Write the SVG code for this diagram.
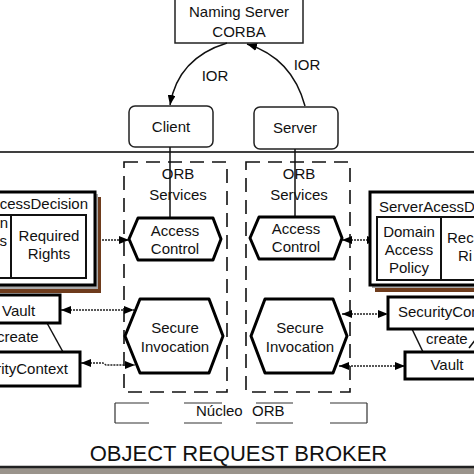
<svg xmlns="http://www.w3.org/2000/svg" width="474" height="474" viewBox="0 0 474 474">
<style>
text{font-family:"Liberation Sans",Arial,sans-serif;font-size:15px;fill:#111}
.c{text-anchor:middle}
.thin{fill:#fff;stroke:#222;stroke-width:1.5}
.thick{fill:#fff;stroke:#000;stroke-width:3}
.hex{fill:#fff;stroke:#000;stroke-width:3;stroke-linejoin:round}
.dash{fill:none;stroke:#111;stroke-width:1.6;stroke-dasharray:14 8}
.dot{fill:none;stroke:#222;stroke-width:1.3;stroke-dasharray:2 1}
.line{fill:none;stroke:#111;stroke-width:1.5}
.nuc{fill:none;stroke:#333;stroke-width:1.2}
</style>
<defs>
<marker id="ah" viewBox="0 0 10 8" refX="10" refY="4" markerWidth="10" markerHeight="8" markerUnits="userSpaceOnUse" orient="auto-start-reverse">
<path d="M0,0 L10,4 L0,8 Z" fill="#000"/>
</marker>
</defs>
<rect width="474" height="474" fill="#fff"/>

<!-- Object request broker frame -->
<g id="orb-frame">
<rect x="-10" y="468" width="494" height="10" fill="#9a948c"/>
<rect x="-10" y="152" width="494" height="315" fill="none" stroke="#111" stroke-width="1.6"/>
<line x1="-10" y1="467" x2="484" y2="467" stroke="#222" stroke-width="2.5"/>
<text class="c" x="238.5" y="461" style="font-size:22px">OBJECT REQUEST BROKER</text>
</g>

<g id="naming-server">
<rect class="thin" x="175" y="-2" width="128" height="45"/>
<text class="c" x="239" y="17">Naming Server</text>
<text class="c" x="239" y="37">CORBA</text>
</g>

<g id="client">
<rect class="thin" x="129" y="106" width="84" height="41" rx="6"/>
<text class="c" x="171" y="132">Client</text>
</g>

<g id="server">
<rect class="thin" x="254" y="107" width="84" height="42" rx="6"/>
<text class="c" x="295" y="133">Server</text>
</g>

<g id="orb-services-left">
<rect class="dash" x="124" y="162" width="103" height="230"/>
<text class="c" x="178" y="179">ORB</text>
<text class="c" x="178" y="200">Services</text>
</g>
<g id="orb-services-right">
<rect class="dash" x="246" y="162" width="104" height="230"/>
<text class="c" x="299" y="179">ORB</text>
<text class="c" x="299" y="200">Services</text>
</g>

<g id="nucleo-orb">
<path class="nuc" d="M115,403 H149 M184,403 H222 M256,403 H293 M330,403 H367 M115,423 H149 M184,423 H222 M256,423 H293 M330,423 H367 M115,403 V423 M367,403 V423"/>
<text x="196" y="416">Núcleo</text>
<text x="252" y="416">ORB</text>
</g>

<!-- Connectors -->
<g id="connectors">
<path class="line" d="M227,43 Q178,58 170,105" marker-end="url(#ah)"/>
<path class="line" d="M305,106 Q292,58 247,44" marker-end="url(#ah)"/>
<text class="c" x="215" y="81">IOR</text>
<text class="c" x="307" y="70">IOR</text>
<line class="line" x1="170" y1="147" x2="170" y2="218"/>
<line class="line" x1="295" y1="149" x2="295" y2="217"/>
<line class="dot" x1="87" y1="240" x2="129" y2="240" marker-start="url(#ah)" marker-end="url(#ah)"/>
<line class="dot" x1="342" y1="240" x2="377" y2="240" marker-start="url(#ah)" marker-end="url(#ah)"/>
<line class="dot" x1="61" y1="310" x2="134" y2="310" marker-start="url(#ah)" marker-end="url(#ah)"/>
<path class="dot" d="M81,363 H103 L106,365 H135" marker-start="url(#ah)" marker-end="url(#ah)"/>
<line class="dot" x1="342" y1="314" x2="388" y2="314" marker-start="url(#ah)" marker-end="url(#ah)"/>
<line class="dot" x1="339" y1="366" x2="405" y2="366" marker-start="url(#ah)" marker-end="url(#ah)"/>
<line class="line" x1="47" y1="323" x2="63" y2="352"/>
<line class="line" x1="412" y1="329" x2="423" y2="352"/>
<line class="line" x1="469" y1="348" x2="476" y2="339"/>
</g>

<g id="access-control-left">
<polygon class="hex" points="129,239 138,218 213,218 221,239 213,260 138,260"/>
<text class="c" x="175" y="236">Access</text>
<text class="c" x="175" y="254">Control</text>
</g>
<g id="access-control-right">
<polygon class="hex" points="250,238 259,217 334,217 342,238 334,259 259,259"/>
<text class="c" x="296" y="234">Access</text>
<text class="c" x="296" y="252">Control</text>
</g>

<g id="secure-invocation-left">
<polygon class="hex" points="125,336 140,299 209,299 223,336 209,373 140,373"/>
<text class="c" x="175" y="333">Secure</text>
<text class="c" x="175" y="352">Invocation</text>
</g>
<g id="secure-invocation-right">
<polygon class="hex" points="251,336 265,299 333,299 347,336 333,373 265,373"/>
<text class="c" x="300" y="333">Secure</text>
<text class="c" x="300" y="352">Invocation</text>
</g>

<g id="client-access-decision">
<rect x="-10" y="197" width="111" height="96" fill="#6e3b1c"/>
<rect x="-10" y="194" width="108" height="95" fill="#a9a9a9"/>
<rect class="thick" x="-10" y="192" width="105" height="93"/>
<text x="88" y="209" style="text-anchor:end">ccessDecision</text>
<rect x="-10" y="215" width="96" height="63" fill="#fff" stroke="#111" stroke-width="2"/>
<line x1="11" y1="215" x2="11" y2="278" stroke="#111" stroke-width="2"/>
<text x="8" y="228" style="text-anchor:end">n</text>
<text x="7" y="246" style="text-anchor:end">s</text>
<text class="c" x="49" y="241">Required</text>
<text class="c" x="49" y="259">Rights</text>
</g>

<g id="server-access-decision">
<rect x="375" y="196" width="110" height="96" fill="#6e3b1c"/>
<rect x="372" y="194" width="110" height="94" fill="#a9a9a9"/>
<rect class="thick" x="370" y="192" width="110" height="93"/>
<text x="379" y="212">ServerAcessD</text>
<rect x="377" y="217" width="110" height="63" fill="#fff" stroke="#111" stroke-width="2"/>
<line x1="441" y1="217" x2="441" y2="280" stroke="#111" stroke-width="2"/>
<text class="c" x="409" y="237">Domain</text>
<text class="c" x="409" y="255">Access</text>
<text class="c" x="409" y="273">Policy</text>
<text x="447" y="243">Rec</text>
<text x="458" y="261">Ri</text>
</g>

<g id="vault-left">
<rect class="thick" x="-10" y="295" width="70" height="28"/>
<text x="2" y="316">Vault</text>
</g>
<text x="-3" y="342">create</text>
<g id="security-context-left">
<rect class="thick" x="-10" y="352" width="90" height="34"/>
<text x="68" y="374" style="text-anchor:end">rityContext</text>
</g>

<g id="security-context-right">
<rect class="thick" x="388" y="297" width="100" height="32"/>
<text x="398" y="317">SecurityCon</text>
</g>
<text x="426" y="344">create</text>
<g id="vault-right">
<rect class="thick" x="405" y="352" width="90" height="27"/>
<text class="c" x="447" y="370">Vault</text>
</g>
</svg>
